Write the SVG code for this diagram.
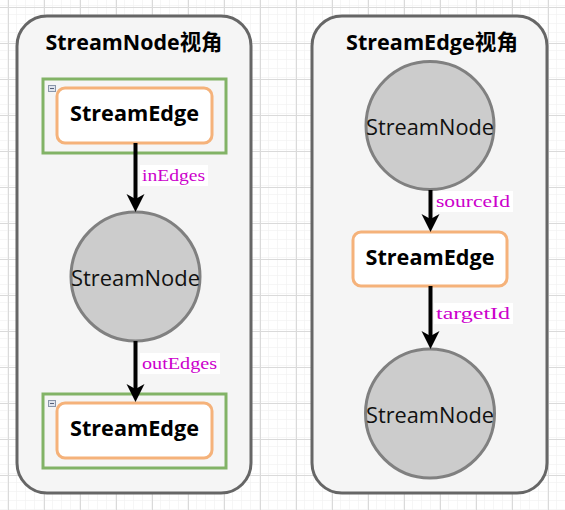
<svg xmlns="http://www.w3.org/2000/svg" width="565" height="510" viewBox="0 0 565 510">
<defs>
<pattern id="minor" x="8" y="7" width="9" height="9" patternUnits="userSpaceOnUse">
<path d="M0,0 H9 M0,0 V9" fill="none" stroke="#eeeeee" stroke-width="1"/>
</pattern>
<pattern id="major" x="8" y="7" width="36" height="36" patternUnits="userSpaceOnUse">
<rect width="36" height="36" fill="url(#minor)"/>
<path d="M0,0.5 H36 M0.5,0 V36" fill="none" stroke="#dadada" stroke-width="1"/>
</pattern>
<marker id="arr" markerUnits="userSpaceOnUse" markerWidth="20" markerHeight="20" refX="5" refY="9" orient="auto">
<path d="M0,0 L18,9 L0,18 L5,9 Z" fill="#000"/>
</marker>
<style>
.panel{fill:#f5f5f5;stroke:#666666;stroke-width:3}
.title{font-family:"Open Sans","Noto Sans","Noto Sans CJK SC",sans-serif;font-weight:bold;font-size:22px;fill:#000}
.grp{fill:#f5f5f5;stroke:#82b366;stroke-width:3}
.edge{fill:#ffffff;stroke:#f5b27a;stroke-width:3}
.etext{font-family:"Open Sans","Noto Sans",sans-serif;font-weight:bold;font-size:21px;fill:#000}
.node{fill:#cccccc;stroke:#808080;stroke-width:3}
.ntext{font-family:"Open Sans","Noto Sans",sans-serif;font-size:22px;fill:#111}
.conn{stroke:#000;stroke-width:4;fill:none;marker-end:url(#arr)}
.lbg{fill:#ffffff}
.lbl{font-family:"Liberation Serif","DejaVu Serif",serif;font-size:16px;fill:#cc00cc}
.icon{fill:#dfe4ee;stroke:#8a96aa;stroke-width:1}
</style>
</defs>
<rect width="565" height="510" fill="#ffffff"/>
<rect width="565" height="510" fill="url(#major)"/>

<g id="panel-streamnode">
<rect class="panel" x="17" y="16" width="234" height="477" rx="30" ry="30"/>
<text class="title" x="134" y="50" text-anchor="middle" textLength="177" lengthAdjust="spacingAndGlyphs">StreamNode视角</text>
</g>
<g id="panel-streamedge">
<rect class="panel" x="312" y="16" width="235" height="477" rx="30" ry="30"/>
<text class="title" x="432" y="50" text-anchor="middle" textLength="172" lengthAdjust="spacingAndGlyphs">StreamEdge视角</text>
</g>

<g id="left-edge-top">
<rect class="grp" x="43" y="79" width="183" height="74"/>
<rect class="icon" x="48.5" y="85.5" width="7" height="6"/>
<line x1="50" y1="88.5" x2="54" y2="88.5" stroke="#55607a" stroke-width="1"/>
<rect class="edge" x="57" y="88" width="155" height="55" rx="8" ry="8"/>
<text class="etext" x="134.5" y="121" text-anchor="middle" textLength="129" lengthAdjust="spacingAndGlyphs">StreamEdge</text>
</g>
<g id="left-node">
<circle class="node" cx="135.5" cy="276.5" r="64.5"/>
<text class="ntext" x="135.5" y="286" text-anchor="middle" textLength="129" lengthAdjust="spacingAndGlyphs">StreamNode</text>
</g>
<g id="left-edge-bottom">
<rect class="grp" x="43" y="394" width="183" height="74"/>
<rect class="icon" x="48.5" y="400.5" width="7" height="6"/>
<line x1="50" y1="403.5" x2="54" y2="403.5" stroke="#55607a" stroke-width="1"/>
<rect class="edge" x="57" y="403" width="155" height="55" rx="8" ry="8"/>
<text class="etext" x="134.5" y="436" text-anchor="middle" textLength="129" lengthAdjust="spacingAndGlyphs">StreamEdge</text>
</g>

<g id="right-node-source">
<circle class="node" cx="430" cy="125.5" r="64"/>
<text class="ntext" x="430" y="135" text-anchor="middle" textLength="128" lengthAdjust="spacingAndGlyphs">StreamNode</text>
</g>
<g id="right-edge">
<rect class="edge" x="353" y="232" width="154" height="54" rx="8" ry="8"/>
<text class="etext" x="430" y="265" text-anchor="middle" textLength="129" lengthAdjust="spacingAndGlyphs">StreamEdge</text>
</g>
<g id="right-node-target">
<circle class="node" cx="430" cy="413.5" r="64.5"/>
<text class="ntext" x="430" y="423" text-anchor="middle" textLength="128" lengthAdjust="spacingAndGlyphs">StreamNode</text>
</g>

<g id="connectors">
<line class="conn" x1="135.5" y1="143" x2="135.5" y2="199"/>
<rect class="lbg" x="140" y="165" width="68" height="21"/>
<text class="lbl" x="142" y="181" textLength="63" lengthAdjust="spacingAndGlyphs">inEdges</text>

<line class="conn" x1="135.5" y1="341" x2="135.5" y2="389"/>
<rect class="lbg" x="140" y="353" width="80" height="21"/>
<text class="lbl" x="142" y="369" textLength="75" lengthAdjust="spacingAndGlyphs">outEdges</text>

<line class="conn" x1="430.5" y1="190" x2="430.5" y2="219"/>
<rect class="lbg" x="434" y="191" width="79" height="21"/>
<text class="lbl" x="436" y="207" textLength="74" lengthAdjust="spacingAndGlyphs">sourceId</text>

<line class="conn" x1="430.5" y1="286" x2="430.5" y2="336"/>
<rect class="lbg" x="434" y="303" width="79" height="21"/>
<text class="lbl" x="436" y="319" textLength="74" lengthAdjust="spacingAndGlyphs">targetId</text>
</g>
</svg>
